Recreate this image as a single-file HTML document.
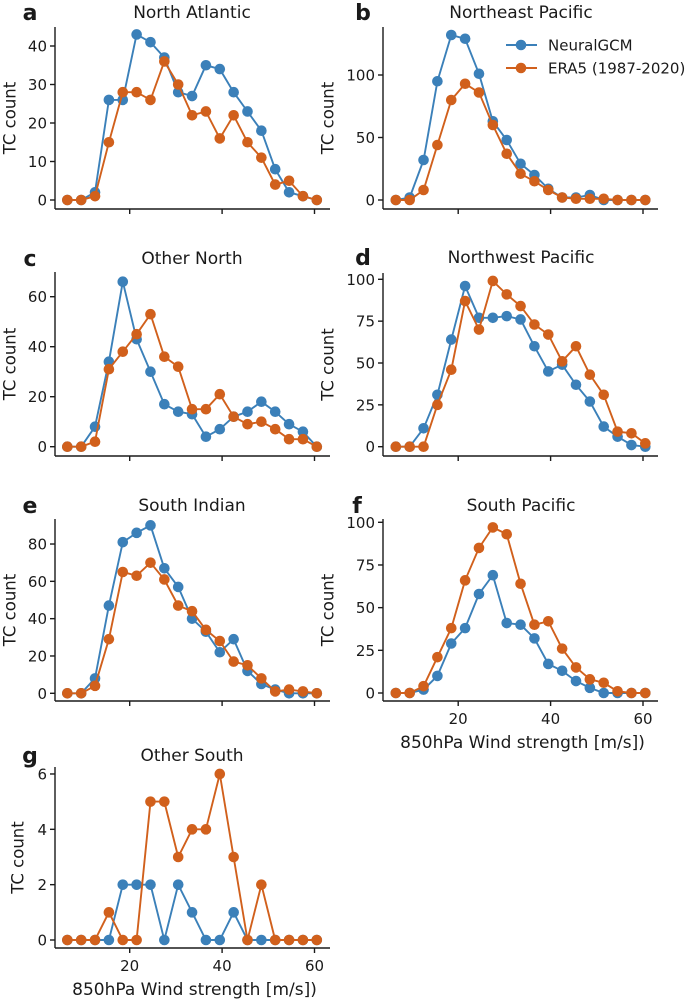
<!DOCTYPE html>
<html><head><meta charset="utf-8"><style>
body{margin:0;background:#fff}
svg{display:block;font-family:"DejaVu Sans","Liberation Sans",sans-serif}
</style></head><body>
<svg id="fig" width="685" height="1001" viewBox="0 0 685 1001"></svg>
<script>
const windBins=[6.5,9.5,12.5,15.5,18.5,21.5,24.5,27.5,30.5,33.5,36.5,39.5,42.5,45.5,48.5,51.5,54.5,57.5,60.5];
const xTicks=[20,40,60];
const naNeural=[0,0,2,26,26,43,41,37,28,27,35,34,28,23,18,8,2,1,0];
const naEra=[0,0,1,15,28,28,26,36,30,22,23,16,22,15,11,4,5,1,0];
const nepNeural=[0,2,32,95,132,129,101,63,48,29,20,9,2,2,4,0,0,0,0];
const nepEra=[0,0,8,44,80,93,86,60,37,21,15,8,2,1,1,1,0,0,0];
const onNeural=[0,0,8,34,66,43,30,17,14,13,4,7,12,14,18,14,9,6,0];
const onEra=[0,0,2,31,38,45,53,36,32,15,15,21,12,9,10,7,3,3,0];
const nwpNeural=[0,0,11,31,64,96,77,77,78,76,60,45,49,37,27,12,6,1,0];
const nwpEra=[0,0,0,25,46,87,70,99,91,84,73,67,51,60,43,31,9,8,2];
const siNeural=[0,0,8,47,81,86,90,67,57,40,33,22,29,12,5,2,0,0,0];
const siEra=[0,0,4,29,65,63,70,61,47,44,34,28,17,15,8,1,2,1,0];
const spNeural=[0,0,2,10,29,38,58,69,41,40,32,17,13,7,3,0,0,0,0];
const spEra=[0,0,4,21,38,66,85,97,93,64,40,42,26,15,8,6,1,0,0];
const osNeural=[0,0,0,0,2,2,2,0,2,1,0,0,1,0,0,0,0,0,0];
const osEra=[0,0,0,1,0,0,5,5,3,4,4,6,3,0,2,0,0,0,0];
const naTicks=[0,10,20,30,40], nepTicks=[0,50,100], onTicks=[0,20,40,60], nwpTicks=[0,25,50,75,100];
const siTicks=[0,20,40,60,80], spTicks=[0,25,50,75,100], osTicks=[0,2,4,6];

const BLUE="#3b80b9", ORANGE="#d1601c", INK="#1a1a1a";
const NS="http://www.w3.org/2000/svg";
const svg=document.getElementById('fig');
function mk(tag,attrs,parent,text){const e=document.createElementNS(NS,tag);for(const k in attrs)e.setAttribute(k,attrs[k]);if(text!==undefined)e.textContent=text;(parent||svg).appendChild(e);return e;}

const panels=[
 {id:'a',title:'North Atlantic',b:naNeural,e:naEra,ticks:naTicks,ax:55,top:27,bot:209,y0:200,k:3.85,x20:129.7,lx:30,ly:12,tx:192,ty:12,ylx:10,xl:false},
 {id:'b',title:'Northeast Pacific',b:nepNeural,e:nepEra,ticks:nepTicks,ax:383,top:27,bot:209,y0:200,k:1.25,x20:458.2,lx:363,ly:12,tx:521,ty:12,ylx:328,xl:false,legend:true},
 {id:'c',title:'Other North',b:onNeural,e:onEra,ticks:onTicks,ax:55,top:272,bot:456,y0:446.7,k:2.5,x20:129.7,lx:30,ly:258,tx:192,ty:258,ylx:10,xl:false},
 {id:'d',title:'Northwest Pacific',b:nwpNeural,e:nwpEra,ticks:nwpTicks,ax:383,top:273,bot:456,y0:446.7,k:1.674,x20:458.2,lx:363,ly:257,tx:521,ty:257,ylx:328,xl:false},
 {id:'e',title:'South Indian',b:siNeural,e:siEra,ticks:siTicks,ax:55,top:519,bot:701,y0:693.3,k:1.866,x20:129.7,lx:30,ly:505,tx:192,ty:505,ylx:10,xl:false},
 {id:'f',title:'South Pacific',b:spNeural,e:spEra,ticks:spTicks,ax:383,top:519,bot:701,y0:693,k:1.707,x20:458.2,lx:357,ly:505,tx:521,ty:505,ylx:328,xl:true},
 {id:'g',title:'Other South',b:osNeural,e:osEra,ticks:osTicks,ax:55,top:767,bot:948,y0:940,k:27.67,x20:129.7,lx:30,ly:755,tx:192,ty:755,ylx:18,xl:true}
];
const XS=4.62;
panels.forEach(p=>{
  const g=mk('g',{});
  
  
  const xp=v=>p.x20+(v-20)*XS, yp=v=>p.y0-v*p.k;
  const right=p.ax+275;
  const lt=mk('text',{x:p.lx,y:p.ly+8,'font-size':22,'font-weight':'bold','text-anchor':'middle',fill:INK},g,p.id);
  
  
  const tt=mk('text',{x:p.tx,y:p.ty+6,'font-size':17,'text-anchor':'middle',fill:INK},g,p.title);
  
  
  const ya=mk('line',{x1:p.ax,y1:p.top,x2:p.ax,y2:p.bot,stroke:INK,'stroke-width':1.4},g);
  
  
  const xa=mk('line',{x1:p.ax,y1:p.bot,x2:right,y2:p.bot,stroke:INK,'stroke-width':1.4},g);
  
  
  p.ticks.forEach(t=>{
    mk('line',{x1:p.ax-5,y1:yp(t),x2:p.ax,y2:yp(t),stroke:INK,'stroke-width':1.4},g);
    const tl=mk('text',{x:p.ax-8,y:yp(t)+5.5,'font-size':15,'text-anchor':'end',fill:INK},g,t);
    
    
  });
  xTicks.forEach(t=>{
    mk('line',{x1:xp(t),y1:p.bot,x2:xp(t),y2:p.bot+5,stroke:INK,'stroke-width':1.4},g);
    if(p.xl){
      const tl=mk('text',{x:xp(t),y:p.bot+23,'font-size':15,'text-anchor':'middle',fill:INK},g,t);
      
      
    }
  });
  if(p.xl){
    const xl=mk('text',{x:(p.ax+right)/2+2,y:p.bot+47,'font-size':17,'text-anchor':'middle',fill:INK},g,'850hPa Wind strength [m/s])');
    
    
  }
  const cy=(p.top+p.bot)/2;
  const yl=mk('text',{x:p.ylx,y:cy,'font-size':16.5,'text-anchor':'middle',fill:INK,transform:`rotate(-90 ${p.ylx} ${cy})`,'dominant-baseline':'central'},g,'TC count');
  
  
  [[p.b,BLUE,'neuralgcm'],[p.e,ORANGE,'era5']].forEach(([vals,col,nm])=>{
    const pts=vals.map((v,i)=>xp(windBins[i]).toFixed(1)+','+yp(v).toFixed(1)).join(' ');
    const pl=mk('polyline',{points:pts,fill:'none',stroke:col,'stroke-width':1.9},g);
    
    
    vals.forEach((v,i)=>{
      const c=mk('circle',{cx:xp(windBins[i]),cy:yp(v),r:5.3,fill:col},g);
      
      
    });
  });
  if(p.legend){
    [[BLUE,'NeuralGCM',45],[ORANGE,'ERA5 (1987-2020)',68]].forEach(([col,lab,y])=>{
      const lg=mk('g',{},g);
      
      
      mk('line',{x1:506,y1:y,x2:537,y2:y,stroke:col,'stroke-width':1.9},lg);
      mk('circle',{cx:521,cy:y,r:5.3,fill:col},lg);
      mk('text',{x:548,y:y+5.5,'font-size':15,fill:INK},lg,lab);
    });
  }
});
</script>
</body></html>
